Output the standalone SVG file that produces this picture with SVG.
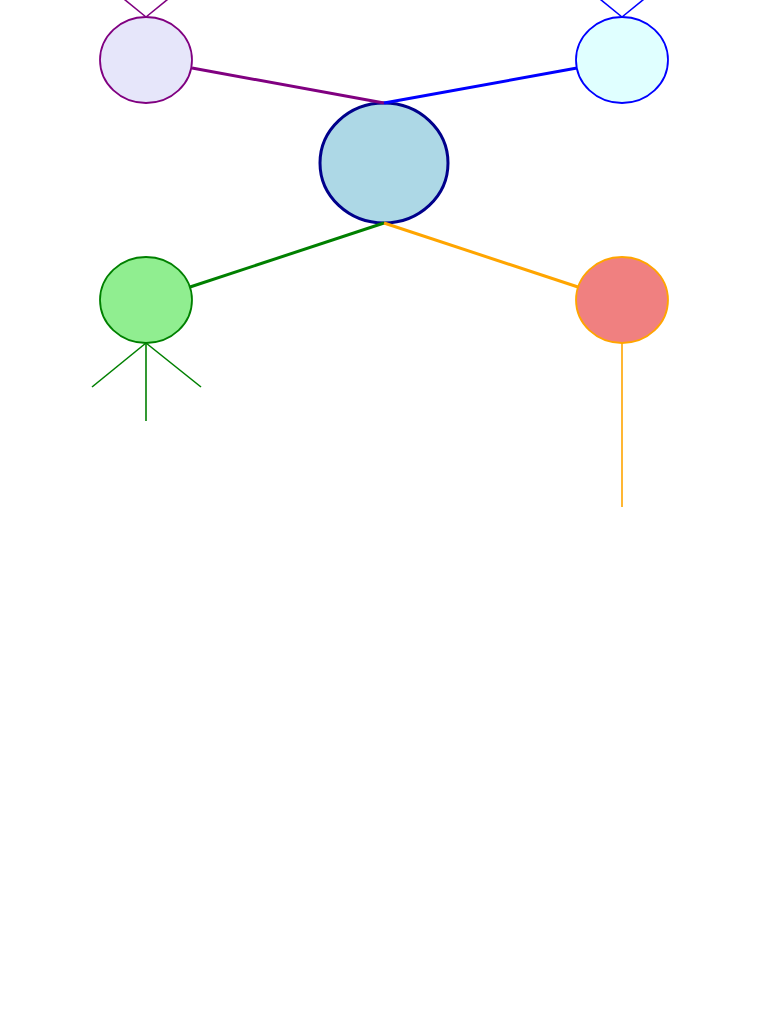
<svg xmlns="http://www.w3.org/2000/svg" width="768" height="1024" viewBox="0 0 768 1024">
<style>
.node{stroke-width:1.8}
.edge{fill:none;stroke-width:3}
.leaf{fill:none;stroke-width:1.6}
</style>
<rect width="768" height="1024" fill="#ffffff"/>
<g id="nodes">
<g id="n-center"><ellipse cx="384" cy="163" rx="64" ry="60" fill="#add8e6" stroke="#00008b" stroke-width="3"/></g>
<g id="n-topleft"><ellipse class="node" cx="146" cy="60" rx="46" ry="43" fill="#e6e6fa" stroke="#800080"/></g>
<g id="n-topright"><ellipse class="node" cx="622" cy="60" rx="46" ry="43" fill="#e0ffff" stroke="#0000ff"/></g>
<g id="n-left"><ellipse class="node" cx="146" cy="300" rx="46" ry="43" fill="#90ee90" stroke="#008000"/></g>
<g id="n-right"><ellipse class="node" cx="622" cy="300" rx="46" ry="43" fill="#f08080" stroke="#ffa500"/></g>
</g>
<g id="connectors">
<line class="edge" x1="192" y1="68" x2="384" y2="103" stroke="#800080"/>
<line class="edge" x1="384" y1="103" x2="577" y2="68" stroke="#0000ff"/>
<line class="edge" x1="384" y1="223" x2="190" y2="287" stroke="#008000"/>
<line class="edge" x1="384" y1="223" x2="578" y2="287" stroke="#ffa500"/>
<line class="leaf" x1="146" y1="17" x2="92" y2="-27" stroke="#800080"/>
<line class="leaf" x1="146" y1="17" x2="200" y2="-27" stroke="#800080"/>
<line class="leaf" x1="622" y1="17" x2="568" y2="-27" stroke="#0000ff"/>
<line class="leaf" x1="622" y1="17" x2="676" y2="-27" stroke="#0000ff"/>
<line class="leaf" x1="146" y1="343" x2="92" y2="387" stroke="#008000"/>
<line class="leaf" x1="146" y1="343" x2="146" y2="421" stroke="#008000"/>
<line class="leaf" x1="146" y1="343" x2="201" y2="387" stroke="#008000"/>
<line class="leaf" x1="622" y1="343" x2="622" y2="507" stroke="#ffa500"/>
</g>
</svg>
